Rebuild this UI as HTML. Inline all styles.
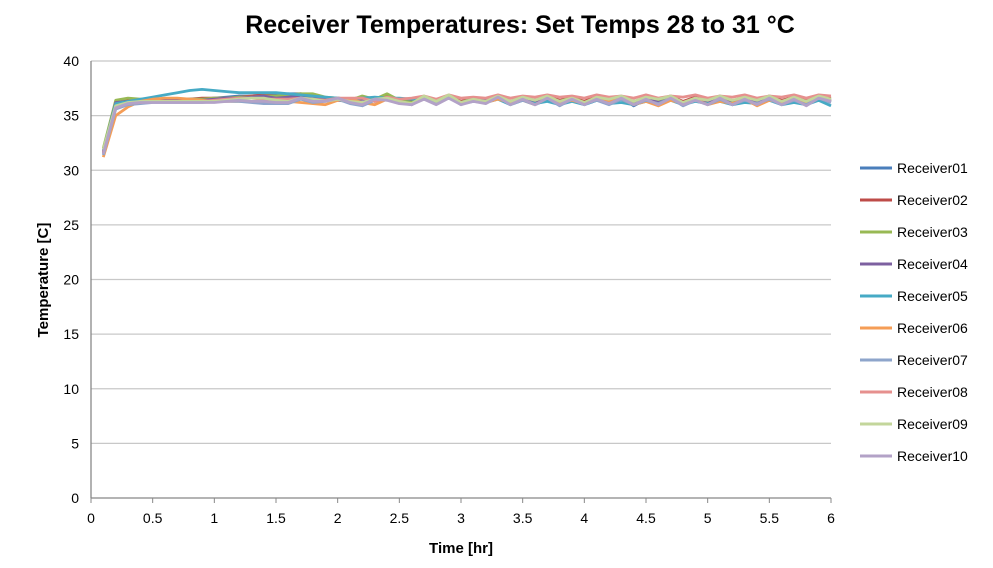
<!DOCTYPE html>
<html><head><meta charset="utf-8"><style>
body{margin:0;background:#fff;font-family:"Liberation Sans",sans-serif}
svg text{font-family:"Liberation Sans",sans-serif}
</style></head><body>
<svg id="chart" width="993" height="563">
<text x="520" y="33" text-anchor="middle" font-size="25" font-weight="bold" fill="#000">Receiver Temperatures: Set Temps 28 to 31 °C</text>
<text transform="translate(48,280) rotate(-90)" text-anchor="middle" font-size="15" font-weight="bold">Temperature [C]</text>
<text x="461" y="553" text-anchor="middle" font-size="15" font-weight="bold">Time [hr]</text>
<g id="grid"></g><g id="series"></g><g id="legend"></g>
</svg>
<script>
const xTicks=[0,0.5,1,1.5,2,2.5,3,3.5,4,4.5,5,5.5,6];
const yTicks=[0,5,10,15,20,25,30,35,40];
const names=["Receiver01","Receiver02","Receiver03","Receiver04","Receiver05","Receiver06","Receiver07","Receiver08","Receiver09","Receiver10"];
const colors=["#4A7EBB","#BE4B48","#98B954","#7D60A0","#46AAC5","#F59D56","#8EA5CB","#E6908E","#C3D69B","#B3A2C7"];
const r01=[31.5,36.0,36.2,36.3,36.4,36.4,36.4,36.5,36.5,36.6,36.7,36.8,36.8,36.9,36.9,37.0,37.0,36.9,36.6,36.5,36.4,36.6,36.3,36.7,36.3,36.0,36.6,36.2,36.7,36.1,36.5,36.2,36.7,36.1,36.6,36.0,36.5,36.2,36.6,36.0,36.4,36.2,36.7,35.9,36.5,36.2,36.6,36.0,36.5,36.2,36.6,36.0,36.5,36.2,36.6,36.0,36.5,36.2,36.7,36.3];
const r02=[31.6,36.1,36.4,36.4,36.5,36.5,36.5,36.5,36.6,36.6,36.6,36.7,36.8,36.9,36.8,36.9,37.0,36.8,36.5,36.6,36.5,36.7,36.4,36.8,36.4,36.3,36.7,36.4,36.8,36.3,36.6,36.4,36.8,36.3,36.7,36.4,36.8,36.4,36.7,36.3,36.8,36.4,36.7,36.3,36.6,36.4,36.8,36.3,36.7,36.4,36.8,36.3,36.7,36.4,36.8,36.4,36.7,36.4,36.8,36.6];
const r03=[32.0,36.4,36.6,36.5,36.5,36.5,36.5,36.5,36.5,36.6,36.6,36.7,36.7,36.8,36.8,36.9,37.0,37.0,36.7,36.6,36.4,36.8,36.5,37.0,36.4,36.2,36.7,36.3,36.8,36.2,36.6,36.3,36.7,36.2,36.5,36.1,36.6,36.3,36.7,36.2,36.5,36.1,36.6,36.2,36.7,36.3,36.8,36.1,36.5,36.3,36.7,36.2,36.6,36.1,36.7,36.2,36.6,36.3,36.7,36.5];
const r04=[31.7,36.2,36.3,36.3,36.4,36.4,36.4,36.4,36.4,36.5,36.6,36.6,36.7,36.8,36.6,36.7,36.8,36.7,36.6,36.4,36.3,36.5,36.4,36.6,36.2,36.1,36.6,36.2,36.7,36.2,36.5,36.4,36.6,36.2,36.5,36.3,36.6,36.2,36.5,36.1,36.6,36.3,36.5,36.0,36.6,36.2,36.5,36.1,36.6,36.3,36.5,36.1,36.6,36.2,36.5,36.2,36.6,36.1,36.7,36.4];
const r05=[31.8,36.1,36.3,36.5,36.7,36.9,37.1,37.3,37.4,37.3,37.2,37.1,37.1,37.1,37.1,37.0,36.9,36.8,36.7,36.6,36.5,36.6,36.7,36.6,36.6,36.5,36.6,36.3,36.6,36.1,36.3,36.2,36.5,36.0,36.4,36.1,36.3,36.0,36.3,36.0,36.4,36.1,36.2,36.0,36.3,36.1,36.4,36.0,36.3,36.1,36.3,36.0,36.2,36.1,36.4,36.0,36.2,36.0,36.4,35.9];
const r06=[31.2,35.0,35.8,36.3,36.5,36.6,36.6,36.5,36.4,36.3,36.3,36.3,36.3,36.2,36.3,36.3,36.2,36.1,36.0,36.4,36.5,36.2,36.0,36.5,36.2,36.1,36.6,36.3,36.6,36.2,36.4,36.2,36.5,36.2,36.4,36.0,36.6,36.2,36.4,36.1,36.5,36.3,36.5,36.0,36.3,35.9,36.4,36.1,36.5,36.0,36.3,36.1,36.5,35.9,36.4,36.2,36.5,36.1,36.6,36.3];
const r07=[31.4,35.6,36.0,36.1,36.2,36.2,36.2,36.2,36.2,36.3,36.3,36.3,36.2,36.1,36.1,36.1,36.5,36.2,36.3,36.5,36.1,35.9,36.4,36.5,36.2,36.0,36.6,36.1,36.7,36.0,36.4,36.3,36.7,36.0,36.4,36.0,36.6,35.9,36.5,36.1,36.4,36.0,36.5,36.0,36.4,36.1,36.6,35.9,36.4,36.0,36.5,36.0,36.4,36.1,36.5,36.0,36.4,36.0,36.6,36.2];
const r08=[31.6,35.8,36.1,36.2,36.3,36.3,36.3,36.3,36.3,36.4,36.5,36.6,36.6,36.5,36.5,36.5,36.6,36.5,36.4,36.6,36.6,36.6,36.3,36.7,36.5,36.6,36.8,36.5,36.9,36.6,36.7,36.6,36.9,36.6,36.8,36.7,36.9,36.7,36.8,36.6,36.9,36.7,36.8,36.6,36.9,36.6,36.8,36.7,36.9,36.6,36.8,36.7,36.9,36.6,36.8,36.7,36.9,36.6,36.9,36.8];
const r09=[31.9,35.9,36.2,36.3,36.3,36.3,36.3,36.3,36.3,36.3,36.4,36.5,36.6,36.6,36.4,36.3,36.6,36.5,36.3,36.5,36.3,36.2,36.5,36.6,36.3,36.1,36.8,36.3,36.9,36.2,36.5,36.3,36.8,36.3,36.7,36.4,36.8,36.3,36.6,36.2,36.7,36.5,36.8,36.3,36.7,36.5,36.8,36.2,36.6,36.4,36.8,36.4,36.7,36.4,36.8,36.3,36.7,36.3,36.8,36.5];
const r10=[31.5,35.7,36.1,36.2,36.2,36.2,36.2,36.2,36.2,36.2,36.3,36.4,36.3,36.3,36.2,36.2,36.6,36.3,36.3,36.6,36.2,36.0,36.5,36.4,36.1,36.0,36.5,36.0,36.6,36.0,36.3,36.1,36.7,36.0,36.5,36.0,36.6,36.0,36.5,36.0,36.5,36.1,36.6,36.0,36.5,36.0,36.6,36.0,36.4,36.0,36.6,36.0,36.5,36.0,36.6,36.0,36.5,35.9,36.6,36.3];
const seriesData=[r01,r02,r03,r04,r05,r06,r07,r08,r09,r10];
const NS="http://www.w3.org/2000/svg";
const X0=91,X1=831,Y0=498,Y1=61;
const xs=v=>X0+(v/6)*(X1-X0);
const ys=v=>Y0-(v/40)*(Y0-Y1);
function mk(t,a,p){const e=document.createElementNS(NS,t);for(const k in a)e.setAttribute(k,a[k]);p.appendChild(e);return e;}
const grid=document.getElementById('grid');
yTicks.forEach(v=>{
 const l=mk('line',{x1:X0,x2:X1,y1:ys(v),y2:ys(v),stroke:v===0?'#888':'#c8c8c8','stroke-width':1.3},grid);
 
 
 const t=mk('text',{x:X0-12,y:ys(v)+5,'text-anchor':'end','font-size':14},grid);t.textContent=v;
 
 
});
const ax=mk('line',{x1:X0,x2:X0,y1:Y1,y2:Y0,stroke:'#888','stroke-width':1.3},grid);


xTicks.forEach(v=>{
 const tk=mk('line',{x1:xs(v),x2:xs(v),y1:Y0,y2:Y0+5,stroke:'#888'},grid);
 
 
 const t=mk('text',{x:xs(v),y:Y0+25,'text-anchor':'middle','font-size':14},grid);t.textContent=v;
 
 
});
const sg=document.getElementById('series'),lg=document.getElementById('legend');
seriesData.forEach((d,i)=>{
 const pts=d.map((v,j)=>xs((j+1)*0.1).toFixed(1)+','+ys(v).toFixed(1)).join(' ');
 const p=mk('polyline',{points:pts,fill:'none',stroke:colors[i],'stroke-width':2.8,'stroke-linejoin':'round'},sg);
 
 
 const y=168+i*32;
 const g=mk('g',{},lg);
 
 
 mk('line',{x1:860,x2:892,y1:y,y2:y,stroke:colors[i],'stroke-width':3},g);
 const t=mk('text',{x:897,y:y+5,'font-size':14},g);t.textContent=names[i];
});
</script>
</body></html>
